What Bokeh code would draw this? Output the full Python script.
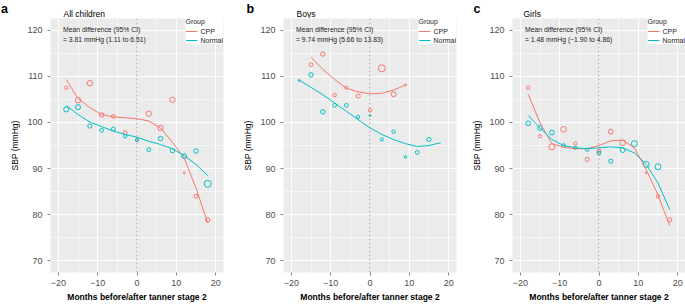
import math
from bokeh.plotting import figure
from bokeh.layouts import row, column
from bokeh.models import Range1d, FixedTicker, Span, Label, Legend, LegendItem
from bokeh.core.properties import value
from bokeh.embed import file_html
from bokeh.resources import INLINE

# ---------------- data ----------------
months = [-18, -15, -12, -9, -6, -3, 0, 3, 6, 9, 12, 15, 18]
x_ticks = [-20, -10, 0, 10, 20]
x_tick_labels = ["\u221220", "\u221210", "0", "10", "20"]
x_minor = [-15, -5, 5, 15]
y_ticks = [70, 80, 90, 100, 110, 120]
y_minor = [75, 85, 95, 105, 115]

panel_letters = ["a", "b", "c"]
panel_titles = ["All children", "Boys", "Girls"]
mean_line1 = "Mean difference (95% CI)"
mean_texts = ["= 3.81 mmHg (1.11 to 6.51)",
              "= 9.74 mmHg (5.66 to 13.83)",
              "= 1.48 mmHg (\u22121.90 to 4.86)"]
groups = ["CPP", "Normal"]

# Panel a: all children
a_cpp_x = months
a_cpp_y = [107.5, 104.8, 108.5, 101.6, 101.3, 97.8, 96.2, 101.9, 98.8, 104.9, 89.1, 84.0, 78.9]
a_cpp_n = [13, 32, 32, 22, 16, 16, 11, 32, 32, 32, 4, 16, 22]
a_nor_x = months
a_nor_y = [102.8, 103.3, 99.2, 98.3, 98.6, 97.0, 96.2, 94.1, 96.5, 93.9, 92.7, 93.8, 86.7]
a_nor_n = [28, 28, 19, 16, 16, 13, 11, 16, 22, 22, 28, 22, 54]
a_cpp_fit_x = months
a_cpp_fit_y = [109.3, 105.2, 103.2, 101.7, 101.2, 101.0, 100.8, 100.3, 98.8, 95.7, 92.3, 85.8, 78.2]
a_nor_fit_x = months
a_nor_fit_y = [103.7, 101.7, 100.1, 99.1, 98.1, 97.4, 96.8, 95.9, 95.2, 94.3, 92.8, 90.9, 88.5]

# Panel b: boys
b_cpp_x = [-15, -12, -9, -6, -3, 0, 3, 6, 9]
b_cpp_y = [112.5, 114.8, 105.9, 107.5, 105.7, 102.6, 111.7, 106.1, 108.1]
b_cpp_n = [16, 22, 13, 11, 19, 13, 54, 28, 4]
b_nor_x = [-18, -15, -12, -9, -6, -3, 0, 3, 6, 9, 12, 15]
b_nor_y = [109.1, 110.3, 102.3, 103.7, 103.7, 101.2, 101.5, 96.3, 98.0, 92.5, 93.5, 96.3]
b_nor_n = [4, 22, 22, 16, 16, 11, 4, 11, 13, 7, 16, 19]
b_cpp_fit_x = [-15, -12, -9, -6, -3, 0, 3, 6, 9]
b_cpp_fit_y = [114.1, 111.5, 109.3, 107.4, 106.6, 106.2, 106.3, 107.0, 108.1]
b_nor_fit_x = months
b_nor_fit_y = [109.1, 107.6, 106.0, 104.2, 102.4, 100.6, 98.8, 97.4, 96.3, 95.4, 94.8, 95.0, 95.6]

# Panel c: girls
c_cpp_x = [-18, -15, -12, -9, -6, -3, 0, 3, 6, 12, 15, 18]
c_cpp_y = [107.5, 97.0, 94.7, 98.5, 95.4, 92.0, 93.8, 98.0, 95.6, 89.1, 84.0, 78.9]
c_cpp_n = [13, 11, 40, 36, 13, 19, 16, 25, 36, 4, 13, 19]
c_nor_x = [-18, -15, -12, -9, -6, -3, 0, 3, 6, 9, 12, 15]
c_nor_y = [99.8, 98.8, 97.8, 95.0, 94.5, 94.1, 93.4, 91.6, 94.0, 95.4, 90.9, 90.4]
c_nor_n = [25, 25, 25, 13, 11, 13, 16, 19, 25, 40, 40, 40]
c_cpp_fit_x = months
c_cpp_fit_y = [106.1, 99.9, 95.4, 94.6, 94.3, 94.3, 95.0, 96.0, 96.2, 94.5, 89.8, 84.3, 77.6]
c_nor_fit_x = months
c_nor_fit_y = [101.5, 98.8, 96.3, 95.0, 94.5, 94.3, 94.5, 94.7, 94.5, 93.4, 90.9, 86.9, 81.1]

# ---------------- style ----------------
CPP_COLOR = "#F8766D"
NOR_COLOR = "#00BFC4"
FONT = "Liberation Sans"
SIZE_K = 0.95
HEADER_H = 18
MAIN_H = 286


def sizes(ns):
    return [SIZE_K * math.sqrt(n) for n in ns]


def make_header(i, width, letter_x, title_x):
    h = figure(width=width, height=HEADER_H, x_range=Range1d(0, width),
               y_range=Range1d(HEADER_H, 0), output_backend="svg", toolbar_location=None,
               x_axis_location=None, y_axis_location=None,
               min_border_left=0, min_border_right=0, min_border_top=0, min_border_bottom=0)
    h.frame_align = False
    h.outline_line_color = None
    h.xgrid.visible = False
    h.ygrid.visible = False
    h.background_fill_color = "white"
    h.border_fill_color = "white"
    h.text(x=[letter_x], y=[8.4], text=[panel_letters[i]], text_font=value(FONT),
           text_font_size="12.5px", text_font_style="bold", text_baseline="middle",
           text_color="black")
    h.text(x=[title_x], y=[13.1], text=[panel_titles[i]], text_font=value(FONT),
           text_font_size="8.5px", text_baseline="middle", text_color="black")
    return h


def make_panel(i, cpp, nor, cpp_fit, nor_fit, width, left, right):
    p = figure(width=width, height=MAIN_H, x_range=Range1d(-22, 22), y_range=Range1d(67.5, 122.5),
               output_backend="svg", toolbar_location=None,
               min_border_left=left, min_border_right=right,
               min_border_top=0, min_border_bottom=32)
    p.frame_align = False
    p.background_fill_color = "#EBEBEB"
    p.border_fill_color = "white"
    p.outline_line_color = None

    p.xaxis.ticker = FixedTicker(ticks=x_ticks, minor_ticks=x_minor)
    p.xaxis.major_label_overrides = {t: l for t, l in zip(x_ticks, x_tick_labels)}
    p.yaxis.ticker = FixedTicker(ticks=y_ticks, minor_ticks=y_minor)
    for ax in (p.xaxis, p.yaxis):
        ax.axis_line_color = None
        ax.major_tick_line_color = "#333333"
        ax.major_tick_line_width = 0.6
        ax.major_tick_out = 3
        ax.major_tick_in = 0
        ax.minor_tick_line_color = None
        ax.major_label_text_color = "#4D4D4D"
        ax.major_label_text_font = FONT
        ax.major_label_text_font_size = "9px"
        ax.axis_label_text_font = FONT
        ax.axis_label_text_color = "black"
        ax.axis_label_text_font_size = "8.5px"
    p.xaxis.axis_label = "Months before/after tanner stage 2"
    p.xaxis.axis_label_text_font_style = "bold"
    p.xaxis.major_label_standoff = 3
    p.xaxis.axis_label_standoff = 3
    p.yaxis.axis_label = "SBP (mmHg)"
    p.yaxis.axis_label_text_font_style = "normal"
    p.yaxis.major_label_standoff = 4
    p.yaxis.axis_label_standoff = 4

    for g in (p.xgrid, p.ygrid):
        g.grid_line_color = "white"
        g.grid_line_width = 1.1
        g.minor_grid_line_color = "white"
        g.minor_grid_line_width = 0.55

    p.add_layout(Span(location=0, dimension="height", line_color="#7F7F7F",
                      line_dash="2 2", line_width=0.7))

    # points
    p.scatter(cpp[0], cpp[1], size=sizes(cpp[2]), marker="circle", fill_color=None,
              line_color=CPP_COLOR, line_width=1)
    p.scatter(nor[0], nor[1], size=sizes(nor[2]), marker="circle", fill_color=None,
              line_color=NOR_COLOR, line_width=1)
    # fitted curves
    l1 = p.line(cpp_fit[0], cpp_fit[1], line_color=CPP_COLOR, line_width=1)
    l2 = p.line(nor_fit[0], nor_fit[1], line_color=NOR_COLOR, line_width=1)
    d1 = p.scatter([], [], size=3.5, marker="circle", color=CPP_COLOR)
    d2 = p.scatter([], [], size=3.5, marker="circle", color=NOR_COLOR)

    legend = Legend(items=[LegendItem(label=groups[0], renderers=[l1, d1]),
                           LegendItem(label=groups[1], renderers=[l2, d2])],
                    location="top_right", title="Group", margin=0, padding=3, spacing=1,
                    label_height=8, glyph_height=8, glyph_width=12, label_standoff=3,
                    title_standoff=2, background_fill_color="white", background_fill_alpha=1,
                    border_line_color=None,
                    label_text_font=FONT, label_text_font_size="7px",
                    title_text_font=FONT, title_text_font_size="7px",
                    title_text_font_style="normal", title_text_color="#222222",
                    label_text_color="#222222")
    p.add_layout(legend)

    p.add_layout(Label(x=-22, y=122.5, x_offset=12.5, y_offset=-11, text=mean_line1,
                       text_font=FONT, text_font_size="6.8px", text_baseline="middle",
                       text_color="#222222"))
    p.add_layout(Label(x=-22, y=122.5, x_offset=12.5, y_offset=-21, text=mean_texts[i],
                       text_font=FONT, text_font_size="6.8px", text_baseline="middle",
                       text_color="#222222"))
    return p


pa = make_panel(0, (a_cpp_x, a_cpp_y, a_cpp_n), (a_nor_x, a_nor_y, a_nor_n),
                (a_cpp_fit_x, a_cpp_fit_y), (a_nor_fit_x, a_nor_fit_y), 230, 50, 7)
pb = make_panel(1, (b_cpp_x, b_cpp_y, b_cpp_n), (b_nor_x, b_nor_y, b_nor_n),
                (b_cpp_fit_x, b_cpp_fit_y), (b_nor_fit_x, b_nor_fit_y), 228, 53, 2)
pc = make_panel(2, (c_cpp_x, c_cpp_y, c_cpp_n), (c_nor_x, c_nor_y, c_nor_n),
                (c_cpp_fit_x, c_cpp_fit_y), (c_nor_fit_x, c_nor_fit_y), 227, 54, 0)

ha = make_header(0, 230, 0.5, 63)
hb = make_header(1, 228, 16, 66)
hc = make_header(2, 227, 15, 65)

layout = row(column(ha, pa, spacing=0), column(hb, pb, spacing=0), column(hc, pc, spacing=0),
             spacing=0)
open("out.html", "w").write(file_html(layout, INLINE))
